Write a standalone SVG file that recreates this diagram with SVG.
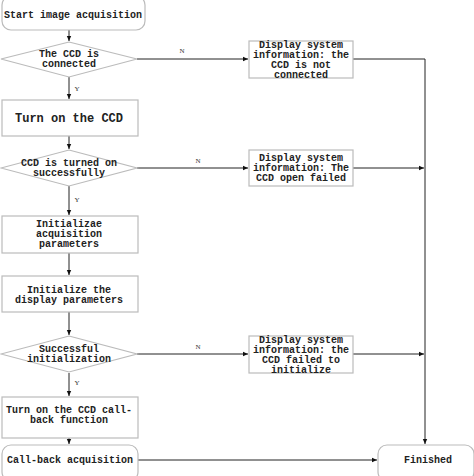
<svg xmlns="http://www.w3.org/2000/svg" width="474" height="476" viewBox="0 0 474 476">
<defs>
<marker id="ah" markerWidth="6" markerHeight="6" refX="5" refY="3" orient="auto" markerUnits="userSpaceOnUse">
<path d="M0,0.8 L5,3 L0,5.2 Z" fill="#111"/>
</marker>
<style>
.shape{fill:#fff;stroke:#bbb;stroke-width:1.2}
.t{font-family:"Liberation Mono","DejaVu Sans Mono",monospace;font-size:10px;fill:#222;text-anchor:middle;font-weight:bold}
.big{font-size:12px}
.lbl{font-family:"Liberation Serif",serif;font-size:7px;fill:#333;text-anchor:middle}
.ln{fill:none;stroke:#222;stroke-width:1}
</style>
</defs>
<rect width="474" height="476" fill="#fff"/>
<g id="connectors">
<path class="ln" d="M69,30 V41" marker-end="url(#ah)"/>
<path class="ln" d="M69,77 V99" marker-end="url(#ah)"/>
<path class="ln" d="M69,136 V149" marker-end="url(#ah)"/>
<path class="ln" d="M69,186 V215" marker-end="url(#ah)"/>
<path class="ln" d="M69,253 V275" marker-end="url(#ah)"/>
<path class="ln" d="M69,312 V335" marker-end="url(#ah)"/>
<path class="ln" d="M69,373 V396" marker-end="url(#ah)"/>
<path class="ln" d="M69,438 V444" marker-end="url(#ah)"/>
<path class="ln" d="M137,59 H248" marker-end="url(#ah)"/>
<path class="ln" d="M137,168 H248" marker-end="url(#ah)"/>
<path class="ln" d="M137,354 H248" marker-end="url(#ah)"/>
<path class="ln" d="M353,59 H425 V444" marker-end="url(#ah)"/>
<path class="ln" d="M353,168 H424" marker-end="url(#ah)"/>
<path class="ln" d="M353,354 H424" marker-end="url(#ah)"/>
<path class="ln" d="M138,460 H377" marker-end="url(#ah)"/>
<text class="lbl" x="77" y="91">Y</text>
<text class="lbl" x="77" y="202">Y</text>
<text class="lbl" x="77" y="385">Y</text>
<text class="lbl" x="182" y="53">N</text>
<text class="lbl" x="198" y="163">N</text>
<text class="lbl" x="198" y="349">N</text>
</g>
<g id="start">
<rect class="shape" x="2" y="-4" width="143" height="34" rx="9"/>
<text class="t" x="73" y="18">Start image acquisition</text>
</g>
<g id="d1">
<polygon class="shape" points="69,42 137,59 69,77 1,59"/>
<text class="t" x="69" y="57">The CCD is</text>
<text class="t" x="69" y="67">connected</text>
</g>
<g id="p1">
<rect class="shape" x="2" y="100" width="136" height="36"/>
<text class="t big" x="69" y="122">Turn on the CCD</text>
</g>
<g id="d2">
<polygon class="shape" points="69,150 137,168 69,186 1,168"/>
<text class="t" x="69" y="166">CCD is turned on</text>
<text class="t" x="69" y="176">successfully</text>
</g>
<g id="p2">
<rect class="shape" x="2" y="216" width="136" height="37"/>
<text class="t" x="69" y="227">Initializae</text>
<text class="t" x="69" y="237">acquisition</text>
<text class="t" x="69" y="247">parameters</text>
</g>
<g id="p3">
<rect class="shape" x="2" y="276" width="136" height="36"/>
<text class="t" x="69" y="293">Initialize the</text>
<text class="t" x="69" y="303">display parameters</text>
</g>
<g id="d3">
<polygon class="shape" points="69,336 137,354 69,372 1,354"/>
<text class="t" x="69" y="352">Successful</text>
<text class="t" x="69" y="362">initialization</text>
</g>
<g id="p4">
<rect class="shape" x="2" y="397" width="136" height="41"/>
<text class="t" x="69" y="413">Turn on the CCD call-</text>
<text class="t" x="69" y="423">back function</text>
</g>
<g id="callback">
<rect class="shape" x="2" y="445" width="136" height="36" rx="9"/>
<text class="t" x="70" y="463">Call-back acquisition</text>
</g>
<g id="e1">
<rect class="shape" x="249" y="41" width="104" height="37"/>
<text class="t" x="301" y="48">Display system</text>
<text class="t" x="301" y="58">information: the</text>
<text class="t" x="301" y="68">CCD is not</text>
<text class="t" x="301" y="78">connected</text>
</g>
<g id="e2">
<rect class="shape" x="249" y="150" width="104" height="36"/>
<text class="t" x="301" y="161">Display system</text>
<text class="t" x="301" y="171">information: The</text>
<text class="t" x="301" y="181">CCD open failed</text>
</g>
<g id="e3">
<rect class="shape" x="249" y="336" width="104" height="37"/>
<text class="t" x="301" y="343">Display system</text>
<text class="t" x="301" y="353">information: the</text>
<text class="t" x="301" y="363">CCD failed to</text>
<text class="t" x="301" y="373">initialize</text>
</g>
<g id="finished">
<rect class="shape" x="378" y="445" width="96" height="36" rx="9"/>
<text class="t" x="428" y="463">Finished</text>
</g>
</svg>
